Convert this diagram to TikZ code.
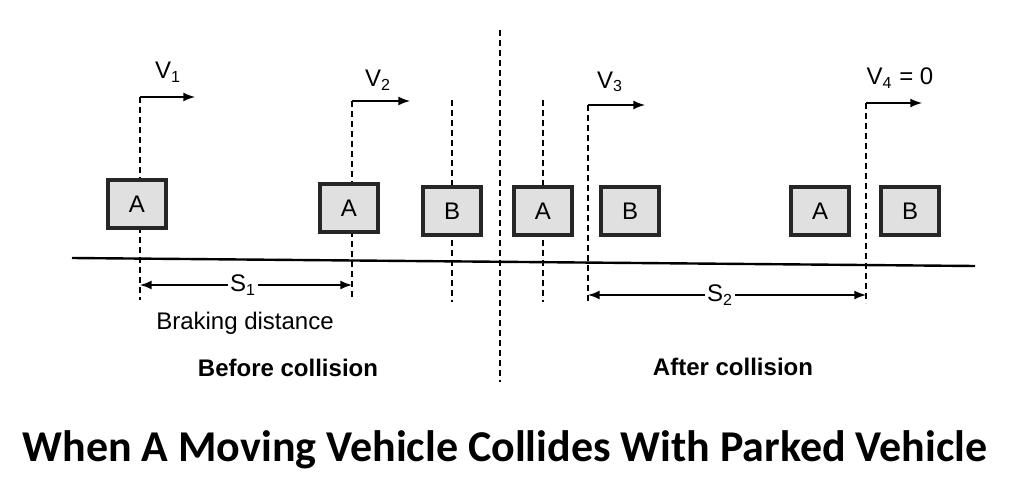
\documentclass[tikz,border=0pt]{standalone}
\usepackage{fontspec}
\setmainfont{Liberation Sans}
\newfontfamily\titlefont{Carlito}
\begin{document}
\begin{tikzpicture}[x=0.5pt,y=-0.5pt,
 car/.style={draw=black!85,line width=1.6pt,fill=black!12,minimum width=29pt,minimum height=24pt,inner sep=0pt,font=\large},
 vl/.style={line width=1pt,dash pattern=on 3pt off 2pt},
 va/.style={-latex,line width=1pt},
 lbl/.style={font=\large},
 captext/.style={font=\bfseries\large}]
\useasboundingbox (0,0) rectangle (1024,492);
\draw[line width=1.2pt] (72,258) coordinate (g1) -- (975,266) coordinate (g2);
\coordinate (t1) at (140,97); \coordinate (e1) at (195,97); \coordinate (d1) at (140,300);
\coordinate (t2) at (352,101); \coordinate (e2) at (410,101); \coordinate (d2) at (352,300);
\coordinate (t3) at (588,105); \coordinate (e3) at (645,105); \coordinate (d3) at (588,303);
\coordinate (t4) at (866,103); \coordinate (e4) at (922,103); \coordinate (d4) at (866,303);
\foreach \i in {1,2,3,4}{\draw[vl] (t\i) -- (d\i); \draw[va] (t\i) -- (e\i);}
\draw[vl] (452,100) -- (452,302);
\draw[vl] (543,100) -- (543,302);
\draw[vl] (500,30) -- (500,382);
\node[car] (a1) at (137,204) {A};
\node[car] (a2) at (349,208) {A};
\node[car] (b1) at (452,211) {B};
\node[car] (a3) at (543,211) {A};
\node[car] (b2) at (630,211) {B};
\node[car] (a4) at (820,211) {A};
\node[car] (b3) at (910,211) {B};
\node[lbl] (v1) at (168,72) {V\textsubscript{1}};
\node[lbl] (v2) at (378,80) {V\textsubscript{2}};
\node[lbl] (v3) at (610,82) {V\textsubscript{3}};
\node[lbl] (v4) at (900,78) {V\textsubscript{4} = 0};
\node[lbl,fill=white,inner sep=1pt] (s1) at (243,285) {S\textsubscript{1}};
\draw[va] (s1) -- (t1|-s1);
\draw[va] (s1) -- (t2|-s1);
\node[lbl,fill=white,inner sep=1pt] (s2) at (720,295) {S\textsubscript{2}};
\draw[va] (s2) -- (t3|-s2);
\draw[va] (s2) -- (t4|-s2);
\node[font=\large] (bd) at (245,323) {Braking distance};
\node[captext] (bc) at (288,368) {Before collision};
\node[captext] (ac) at (733,367) {After collision};
\node[font=\titlefont\bfseries\fontsize{22}{26}\selectfont] (title) at (505,450) {When A Moving Vehicle Collides With Parked Vehicle};
\end{tikzpicture}
\end{document}
